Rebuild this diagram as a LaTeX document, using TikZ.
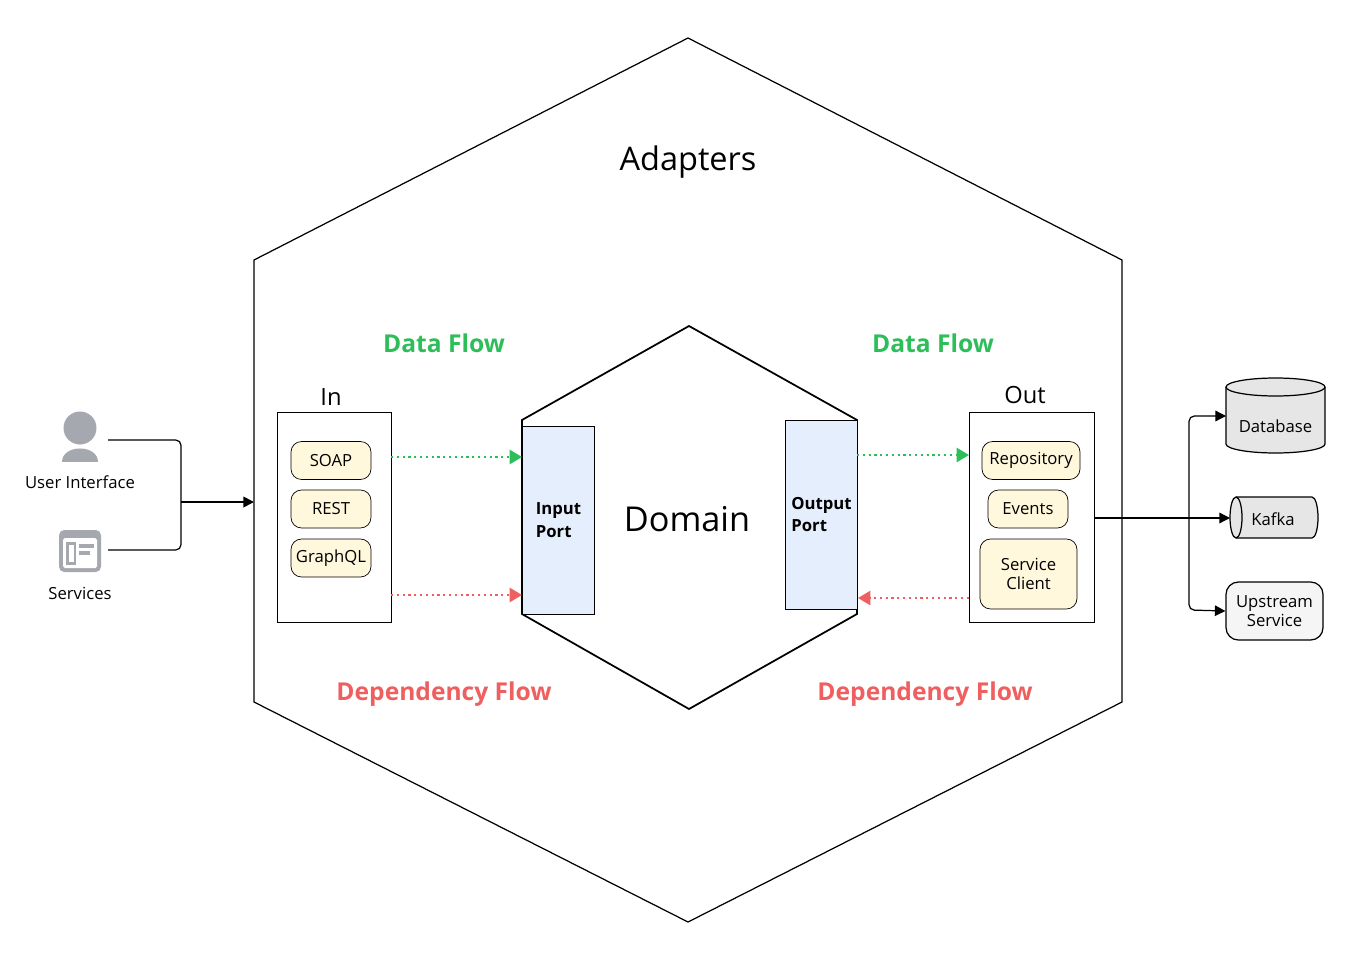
\documentclass[tikz,border=0pt]{standalone}
\usepackage{fontspec}
\setmainfont{Open Sans}
\usetikzlibrary{shapes.geometric,arrows.meta}
\definecolor{grn}{HTML}{2DBE5A}
\definecolor{rd}{HTML}{EF5F5F}
\definecolor{port}{HTML}{E5EEFC}
\definecolor{cream}{HTML}{FFF8DC}
\definecolor{gicon}{HTML}{A5A8AE}
\definecolor{cyl}{HTML}{E6E6E6}
\begin{document}
\begin{tikzpicture}[x=0.02cm,y=-0.02cm,
  every node/.style={font=\fontsize{9.5}{11}\selectfont},
  item/.style={draw,fill=cream,rounded corners=6pt,minimum width=1.6cm,minimum height=0.76cm,inner sep=1pt,align=center},
  portbox/.style={draw,fill=port,minimum width=1.44cm,minimum height=3.76cm,align=left,font=\fontsize{9.5}{13}\selectfont\bfseries},
  frame/.style={draw,minimum width=2.28cm,minimum height=4.2cm},
  gflow/.style={grn,line width=1.3pt,dotted,-{Triangle[length=7pt,width=8pt]}},
  rflow/.style={rd,line width=1.3pt,dotted,-{Triangle[length=7pt,width=8pt]}},
  conn/.style={line width=0.7pt,rounded corners=3pt},
  arr/.style={conn,-{Triangle[length=6pt,width=6pt]}},
  flowlbl/.style={font=\fontsize{14}{16}\selectfont\bfseries}]
\useasboundingbox (0,0) rectangle (1358,966);
\draw[line width=0.7pt] (688,38) -- (1122,260) -- (1122,702) -- (688,922) -- (254,702) -- (254,260) -- cycle;
\draw[line width=1pt] (689,326) -- (857,420) -- (857,614) -- (689,709) -- (522,614) -- (522,420) -- cycle;
\node (adapters) at (688,162) {\fontsize{18.5}{22}\selectfont Adapters};
\node (domain) at (687,519) {\fontsize{19.5}{22}\selectfont Domain};
\node[flowlbl,grn] (df1) at (444,343) {Data Flow};
\node[flowlbl,grn] (df2) at (933,343) {Data Flow};
\node[flowlbl,rd] (dp1) at (444,694) {Dependency Flow};
\node[flowlbl,rd] (dp2) at (925,694) {Dependency Flow};
\node[frame] (in) at (334,517) {};
\node[frame,minimum width=2.5cm] (out) at (1031.5,517) {};
\node[font=\fontsize{13.5}{15}\selectfont] (inl) at (331,397) {In};
\node[font=\fontsize{13.5}{15}\selectfont] (outl) at (1025,395) {Out};
\node[portbox] (ip) at (558.5,520) {Input\\Port};
\node[portbox,minimum height=3.78cm] (op) at (821.5,514.5) {Output\\Port};
\node[item] (soap) at (331,460.5) {SOAP};
\node[item] (rest) at (331,509) {REST};
\node[item] (gql) at (331,558) {GraphQL};
\node[item,minimum width=1.96cm] (repo) at (1031,460.5) {Repository};
\node[item] (ev) at (1028,509) {Events};
\node[item,minimum width=1.94cm,minimum height=1.4cm] (sc) at (1028.5,574) {Service\\Client};
\coordinate (g1s) at (391,457); \coordinate (g1e) at (522,457);
\coordinate (r1s) at (391,595); \coordinate (r1e) at (522,595);
\coordinate (g2s) at (857,455); \coordinate (g2e) at (969,455);
\coordinate (r2s) at (969,598); \coordinate (r2e) at (858,598);
\draw[gflow] (g1s) -- (g1e);
\draw[rflow] (r1s) -- (r1e);
\draw[gflow] (g2s) -- (g2e);
\draw[rflow] (r2s) -- (r2e);
% left icons
\fill[gicon] (80,428) circle (0.33cm);
\fill[gicon] (62,462) .. controls (62,444) and (98,444) .. (98,462) -- cycle;
\node (ui) at (80,482) {User Interface};
\fill[gicon,rounded corners=3pt] (59,530) rectangle (101,572);
\fill[white,rounded corners=1pt] (63,538) rectangle (97,568);
\fill[gicon] (66,542) rectangle (76,565);
\fill[white] (68.5,545) rectangle (73.5,562);
\fill[gicon] (79,544) rectangle (94,548);
\fill[gicon] (79,551) rectangle (90,555);
\node (svc) at (80,593) {Services};
\coordinate (uiend) at (108,440);
\coordinate (svend) at (108,550);
\coordinate (target) at (254,502);
\draw[conn] (uiend) -- (181,440) -- (181,502);
\draw[conn] (svend) -- (181,550) -- (181,502);
\draw[arr,line width=1pt] (181,502) -- (target);
% right
\draw[fill=cyl,line width=0.7pt] (1226,387) -- (1226,444) arc[start angle=180,end angle=0,x radius=49.5,y radius=9] -- (1325,387);
\draw[fill=cyl,line width=0.7pt] (1275.5,387) ellipse[x radius=49.5,y radius=9];
\node (db) at (1275.5,426) {Database};
\draw[fill=cyl,line width=0.7pt] (1236,497) -- (1312,497) arc[start angle=-90,end angle=90,x radius=6,y radius=20.5] -- (1236,538);
\draw[fill=cyl,line width=0.7pt] (1236,517.5) ellipse[x radius=6,y radius=20.5];
\node (kafka) at (1273,519) {Kafka};
\node[draw,fill=cyl!40,rounded corners=7pt,minimum width=1.94cm,minimum height=1.16cm,align=center,line width=0.7pt] (up) at (1274.5,611) {Upstream\\Service};
\coordinate (dbin) at (1226,416);
\coordinate (kin) at (1230,518);
\draw[conn] (out.east |- 0,518) -- (1189,518);
\draw[arr] (1189,518) -- (1189,416) -- (dbin);
\draw[arr] (1189,518) -- (kin);
\draw[arr] (1189,518) -- (1189,610) -- (up.west);
\end{tikzpicture}
\end{document}
